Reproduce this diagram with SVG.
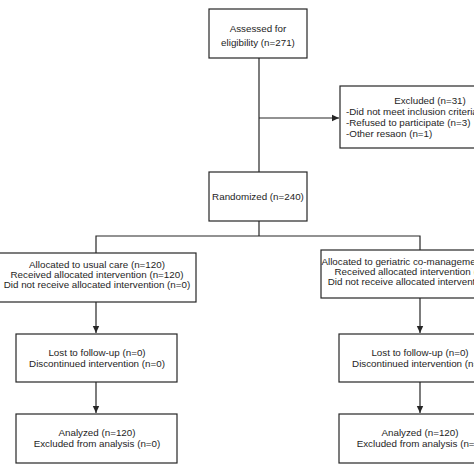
<svg xmlns="http://www.w3.org/2000/svg" width="474" height="474" viewBox="0 0 474 474">
<style>
.box{fill:#fff;stroke:#262626;stroke-width:1.2}
.t{font-family:"Liberation Sans",Arial,sans-serif;font-size:9.8px;fill:#1e1e1e;text-anchor:middle}
.l{text-anchor:start}
.c{fill:none;stroke:#262626;stroke-width:1.2}
</style>
<defs>
<marker id="arr" markerWidth="8" markerHeight="8" refX="7" refY="4" orient="auto" markerUnits="userSpaceOnUse">
<path d="M0,0.8 L7,4 L0,7.2 Z" fill="#262626"/>
</marker>
</defs>
<rect width="474" height="474" fill="#fff"/>
<g id="connectors">
<path class="c" d="M259,58 V172"/>
<path class="c" d="M259,118 H339" marker-end="url(#arr)"/>
<path class="c" d="M259,221 V236"/>
<path class="c" d="M96,253 V236 H420 V250"/>
<path class="c" d="M96,302 V333" marker-end="url(#arr)"/>
<path class="c" d="M420,298 V333" marker-end="url(#arr)"/>
<path class="c" d="M96,382 V413" marker-end="url(#arr)"/>
<path class="c" d="M420,382 V413" marker-end="url(#arr)"/>
</g>
<g id="assessed">
<rect class="box" x="209" y="9" width="98" height="49"/>
<text class="t" x="258" y="32">Assessed for</text>
<text class="t" x="258" y="46">eligibility (n=271)</text>
</g>
<g id="excluded">
<rect class="box" x="340" y="86" width="180" height="62"/>
<text class="t" x="430" y="104">Excluded (n=31)</text>
<text class="t l" x="346" y="115">-Did not meet inclusion criteria (n=27)</text>
<text class="t l" x="346" y="126">-Refused to participate (n=3)</text>
<text class="t l" x="346" y="137">-Other resaon (n=1)</text>
</g>
<g id="randomized">
<rect class="box" x="209" y="172" width="98" height="49"/>
<text class="t" x="258" y="200">Randomized (n=240)</text>
</g>
<g id="alloc-usual">
<rect class="box" x="-1" y="253" width="197" height="49"/>
<text class="t" x="97" y="268">Allocated to usual care (n=120)</text>
<text class="t" x="97" y="278">Received allocated intervention (n=120)</text>
<text class="t" x="97" y="288">Did not receive allocated intervention (n=0)</text>
</g>
<g id="alloc-geri">
<rect class="box" x="321" y="250" width="200" height="48"/>
<text class="t" x="421" y="265">Allocated to geriatric co-management (n=120)</text>
<text class="t" x="421" y="275">Received allocated intervention (n=120)</text>
<text class="t" x="421" y="285">Did not receive allocated intervention (n=0)</text>
</g>
<g id="lost-usual">
<rect class="box" x="16" y="334" width="161" height="48"/>
<text class="t" x="97" y="356">Lost to follow-up (n=0)</text>
<text class="t" x="97" y="367">Discontinued intervention (n=0)</text>
</g>
<g id="lost-geri">
<rect class="box" x="339" y="334" width="161" height="48"/>
<text class="t" x="420" y="356">Lost to follow-up (n=0)</text>
<text class="t" x="420" y="367">Discontinued intervention (n=0)</text>
</g>
<g id="analyzed-usual">
<rect class="box" x="16" y="414" width="161" height="49"/>
<text class="t" x="97" y="436">Analyzed (n=120)</text>
<text class="t" x="97" y="447">Excluded from analysis (n=0)</text>
</g>
<g id="analyzed-geri">
<rect class="box" x="339" y="414" width="161" height="49"/>
<text class="t" x="420" y="436">Analyzed (n=120)</text>
<text class="t" x="420" y="447">Excluded from analysis (n=0)</text>
</g>
</svg>
